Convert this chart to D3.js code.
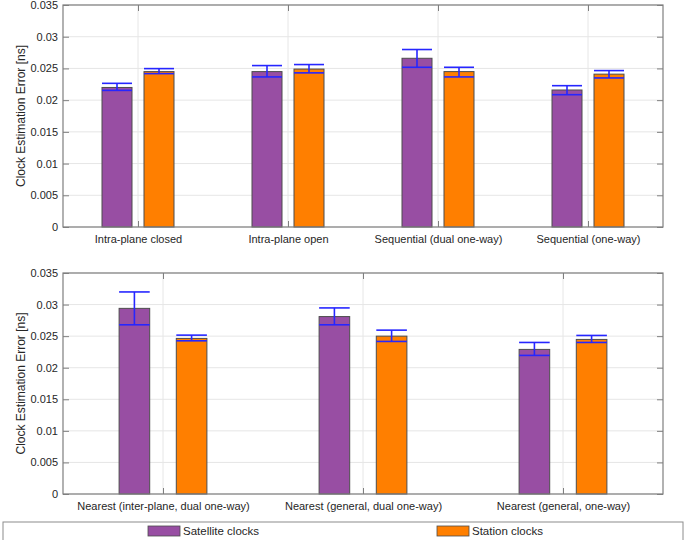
<!DOCTYPE html>
<html>
<head>
<meta charset="utf-8">
<script src="https://cdn.jsdelivr.net/npm/d3@7"></script>
<style>
  body { margin: 0; background: #fff; }
  text { font-family: "Liberation Sans", Arial, sans-serif; fill: #262626; }
</style>
</head>
<body>
<div id="chart"></div>
<script>
// top panel data
const topCategories = ['Intra-plane closed', 'Intra-plane open', 'Sequential (dual one-way)', 'Sequential (one-way)'];
const topSat = [0.0220, 0.0245, 0.0266, 0.0216];
const topSatLo = [0.02154, 0.02366, 0.02518, 0.02086];
const topSatHi = [0.02265, 0.02545, 0.02798, 0.02228];
const topSta = [0.0245, 0.0249, 0.0245, 0.0241];
const topStaLo = [0.02418, 0.0243, 0.02366, 0.0235];
const topStaHi = [0.02497, 0.02561, 0.02518, 0.02466];

// bottom panel data
const botCategories = ['Nearest (inter-plane, dual one-way)', 'Nearest (general, dual one-way)', 'Nearest (general, one-way)'];
const botSat = [0.0294, 0.0281, 0.0229];
const botSatLo = [0.0268, 0.0268, 0.02195];
const botSatHi = [0.0320, 0.02947, 0.0240];
const botSta = [0.02464, 0.0250, 0.02448];
const botStaLo = [0.02426, 0.02416, 0.0240];
const botStaHi = [0.02516, 0.02595, 0.02511];

const yTicks = [0, 0.005, 0.01, 0.015, 0.02, 0.025, 0.03, 0.035];
const seriesNames = ['Satellite clocks', 'Station clocks'];
const colors = ['#984EA3', '#FF7F00'];

const svg = d3.select('#chart').append('svg')
    .attr('width', 685)
    .attr('height', 540);

function drawPanel(cfg) {
    const n = cfg.categories.length;
    const x = d3.scaleLinear().domain([0.5, n + 0.5]).range([cfg.left, cfg.right]);
    const y = d3.scaleLinear().domain([0, 0.035]).range([cfg.bottom, cfg.top]);
    const g = svg.append('g');
    const idx = d3.range(n);
    const fmt = d => d === 0 ? '0' : String(+d.toFixed(3));

    // grid
    g.selectAll('.hgrid').data(yTicks).enter().append('line')
        .attr('x1', cfg.left).attr('x2', cfg.right)
        .attr('y1', d => y(d)).attr('y2', d => y(d))
        .attr('stroke', '#e6e6e6').attr('stroke-width', 1);
    g.selectAll('.vgrid').data(idx).enter().append('line')
        .attr('x1', i => x(i + 1)).attr('x2', i => x(i + 1))
        .attr('y1', cfg.top).attr('y2', cfg.bottom)
        .attr('stroke', '#e6e6e6').attr('stroke-width', 1);

    // bars
    const series = [
        { vals: cfg.sat, lo: cfg.satLo, hi: cfg.satHi, off: -cfg.offset, color: colors[0] },
        { vals: cfg.sta, lo: cfg.staLo, hi: cfg.staHi, off: cfg.offset, color: colors[1] }
    ];
    const bw = x(cfg.barWidth) - x(0);
    series.forEach(s => {
        g.selectAll(null).data(idx).enter().append('rect')
            .attr('x', i => x(i + 1 + s.off) - bw / 2)
            .attr('y', i => y(s.vals[i]))
            .attr('width', bw)
            .attr('height', i => y(0) - y(s.vals[i]))
            .attr('fill', s.color)
            .attr('stroke', '#4d4d4d')
            .attr('stroke-width', 1);
    });

    // error bars
    series.forEach(s => {
        const eb = g.selectAll(null).data(idx).enter().append('g')
            .attr('stroke', '#2626ff').attr('stroke-width', 1.6);
        eb.append('line')
            .attr('x1', i => x(i + 1 + s.off)).attr('x2', i => x(i + 1 + s.off))
            .attr('y1', i => y(s.lo[i])).attr('y2', i => y(s.hi[i]));
        eb.append('line')
            .attr('x1', i => x(i + 1 + s.off) - bw / 2).attr('x2', i => x(i + 1 + s.off) + bw / 2)
            .attr('y1', i => y(s.hi[i])).attr('y2', i => y(s.hi[i]));
        eb.append('line')
            .attr('x1', i => x(i + 1 + s.off) - bw / 2).attr('x2', i => x(i + 1 + s.off) + bw / 2)
            .attr('y1', i => y(s.lo[i])).attr('y2', i => y(s.lo[i]));
    });

    // axes box with inward ticks
    const tickLen = 6;
    g.append('rect')
        .attr('x', cfg.left).attr('y', cfg.top)
        .attr('width', cfg.right - cfg.left).attr('height', cfg.bottom - cfg.top)
        .attr('fill', 'none').attr('stroke', '#7f7f7f').attr('stroke-width', 1.2);

    g.append('g').attr('transform', `translate(${cfg.left},0)`)
        .call(d3.axisLeft(y).tickValues(yTicks).tickFormat(fmt).tickSizeInner(-tickLen).tickSizeOuter(0).tickPadding(5))
        .call(a => a.select('.domain').remove())
        .call(a => a.selectAll('line').attr('stroke', '#7f7f7f'))
        .call(a => a.selectAll('text').attr('font-size', 11).attr('fill', '#262626')
            .attr('font-family', '"Liberation Sans", Arial, sans-serif'));
    g.append('g').attr('transform', `translate(${cfg.right},0)`)
        .call(d3.axisRight(y).tickValues(yTicks).tickFormat('').tickSizeInner(-tickLen).tickSizeOuter(0))
        .call(a => a.select('.domain').remove())
        .call(a => a.selectAll('line').attr('stroke', '#7f7f7f'));
    g.append('g').attr('transform', `translate(0,${cfg.bottom})`)
        .call(d3.axisBottom(x).tickValues(idx.map(i => i + 1)).tickFormat(d => cfg.categories[d - 1])
            .tickSizeInner(-tickLen).tickSizeOuter(0).tickPadding(8))
        .call(a => a.select('.domain').remove())
        .call(a => a.selectAll('line').attr('stroke', '#7f7f7f'))
        .call(a => a.selectAll('text').attr('font-size', 11).attr('fill', '#262626')
            .attr('font-family', '"Liberation Sans", Arial, sans-serif'));
    g.append('g').attr('transform', `translate(0,${cfg.top})`)
        .call(d3.axisTop(x).tickValues(idx.map(i => i + 1)).tickFormat('').tickSizeInner(-tickLen).tickSizeOuter(0))
        .call(a => a.select('.domain').remove())
        .call(a => a.selectAll('line').attr('stroke', '#7f7f7f'));

    g.append('text')
        .attr('transform', `translate(25,${(cfg.top + cfg.bottom) / 2}) rotate(-90)`)
        .attr('text-anchor', 'middle')
        .attr('font-size', 12)
        .text('Clock Estimation Error [ns]');
}

drawPanel({
    categories: topCategories, sat: topSat, satLo: topSatLo, satHi: topSatHi,
    sta: topSta, staLo: topStaLo, staHi: topStaHi,
    left: 63, right: 663, top: 5, bottom: 227, offset: 0.14, barWidth: 0.2
});
drawPanel({
    categories: botCategories, sat: botSat, satLo: botSatLo, satHi: botSatHi,
    sta: botSta, staLo: botStaLo, staHi: botStaHi,
    left: 63, right: 663, top: 273, bottom: 494, offset: 0.143, barWidth: 0.153
});

// legend
const leg = svg.append('g');
leg.append('rect')
    .attr('x', 3).attr('y', 522).attr('width', 680).attr('height', 24)
    .attr('fill', '#fff').attr('stroke', '#8c8c8c').attr('stroke-width', 1);
const legX = [148, 437];
seriesNames.forEach((name, i) => {
    leg.append('rect')
        .attr('x', legX[i]).attr('y', 526).attr('width', 32).attr('height', 10)
        .attr('fill', colors[i]).attr('stroke', '#4d4d4d').attr('stroke-width', 0.8);
    leg.append('text')
        .attr('x', legX[i] + 35).attr('y', 535)
        .attr('font-size', 11.5)
        .text(name);
});
</script>
</body>
</html>
